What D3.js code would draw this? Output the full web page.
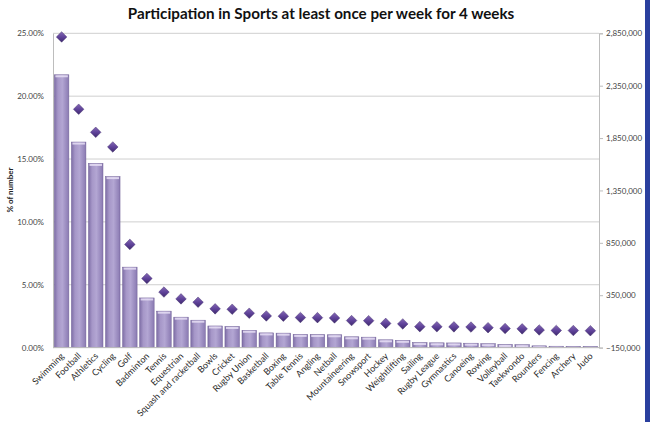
<!DOCTYPE html>
<html>
<head>
<meta charset="utf-8">
<script src="https://cdn.jsdelivr.net/npm/d3@7/dist/d3.min.js"></script>
<style>
  html, body { margin: 0; padding: 0; background: #fff; }
  svg { display: block; }
</style>
</head>
<body>
<svg id="chart" width="650" height="422"></svg>
<script>
const categories = ["Swimming","Football","Athletics","Cycling","Golf","Badminton","Tennis","Equestrian","Squash and racketball","Bowls","Cricket","Rugby Union","Basketball","Boxing","Table Tennis","Angling","Netball","Mountaineering","Snowsport","Hockey","Weightlifting","Sailing","Rugby League","Gymnastics","Canoeing","Rowing","Volleyball","Taekwondo","Rounders","Fencing","Archery","Judo"];
const percentValues = [0.217,0.1635,0.1465,0.136,0.064,0.0395,0.029,0.0242,0.0218,0.0172,0.0168,0.0138,0.0117,0.0115,0.0105,0.0104,0.0102,0.0086,0.0083,0.0062,0.0058,0.0040,0.0038,0.0037,0.0035,0.0031,0.0025,0.0023,0.0014,0.0011,0.0010,0.0009];
const numberValues = [2815000,2125000,1905000,1765000,835000,510000,380000,315000,283000,220000,216000,178000,152000,150000,137000,136000,133000,108000,107000,81000,76000,50000,49000,48000,46000,40000,32000,29000,18000,14000,13000,11000];
const leftTicks = [0,0.05,0.10,0.15,0.20,0.25];
const rightTicks = [-150000,350000,850000,1350000,1850000,2350000,2850000];
const titleText = "Participation in Sports at least once per week for 4 weeks";
const yTitle = "% of number";

const svg = d3.select("#chart");
const FONT = "Lato, 'Open Sans', 'DejaVu Sans', sans-serif";
const m = {left: 53, right: 599, top: 33.3, bottom: 347.6};

const defs = svg.append("defs");
const bg = defs.append("linearGradient").attr("id","barGrad").attr("x1","0").attr("x2","1").attr("y1","0").attr("y2","0");
bg.append("stop").attr("offset","0%").attr("stop-color","#7e6ea6");
bg.append("stop").attr("offset","25%").attr("stop-color","#a697c8");
bg.append("stop").attr("offset","55%").attr("stop-color","#b3a6d3");
bg.append("stop").attr("offset","100%").attr("stop-color","#8a7ab2");
const dg = defs.append("linearGradient").attr("id","diaGrad").attr("x1","0").attr("x2","1").attr("y1","0").attr("y2","1");
dg.append("stop").attr("offset","0%").attr("stop-color","#8468b4");
dg.append("stop").attr("offset","50%").attr("stop-color","#60439a");
dg.append("stop").attr("offset","100%").attr("stop-color","#3f2a6e");

const x = d3.scaleBand().domain(categories).range([m.left, m.right]).paddingInner(0.15).paddingOuter(0.08);
const yL = d3.scaleLinear().domain([0, 0.25]).range([m.bottom, m.top]);
const yR = d3.scaleLinear().domain([-150000, 2850000]).range([m.bottom, m.top]);

// gridlines
svg.append("g").selectAll("line").data(leftTicks).join("line")
  .attr("x1", m.left).attr("x2", m.right)
  .attr("y1", d => yL(d)).attr("y2", d => yL(d))
  .attr("stroke", "#cfcfcf").attr("stroke-width", 1);

// left axis
const axL = svg.append("g").attr("transform", `translate(${m.left},0)`)
  .call(d3.axisLeft(yL).tickValues(leftTicks).tickFormat(d3.format(".2%")).tickSize(0).tickPadding(9));
axL.select(".domain").attr("stroke", "#bdbdbd");
axL.selectAll("text").attr("font-family", FONT).attr("font-size", 8).attr("fill", "#444");

// right axis
const axR = svg.append("g").attr("transform", `translate(${m.right},0)`)
  .call(d3.axisRight(yR).tickValues(rightTicks).tickFormat(d3.format(",")).tickSize(4).tickPadding(3));
axR.select(".domain").attr("stroke", "#bdbdbd");
axR.selectAll(".tick line").attr("stroke", "#bdbdbd");
axR.selectAll("text").attr("font-family", FONT).attr("font-size", 8).attr("fill", "#444");

// bars
const bw = x.bandwidth();
const bars = svg.append("g").selectAll("g").data(categories).join("g");
bars.append("rect")
  .attr("x", d => x(d)).attr("width", bw)
  .attr("y", (d,i) => yL(percentValues[i]))
  .attr("height", (d,i) => yL(0) - yL(percentValues[i]))
  .attr("fill", "url(#barGrad)").attr("stroke", "#6f5f96").attr("stroke-width", 0.5);
bars.append("rect")
  .attr("x", d => x(d) + 1).attr("width", bw - 2)
  .attr("y", (d,i) => yL(percentValues[i]) + 0.5)
  .attr("height", (d,i) => Math.min(2, yL(0) - yL(percentValues[i])))
  .attr("fill", "#e6def5").attr("opacity", 0.85);

// bottom axis line
svg.append("line").attr("x1", m.left).attr("x2", m.right).attr("y1", m.bottom).attr("y2", m.bottom)
  .attr("stroke", "#bdbdbd");

// diamonds
const sym = d3.symbol().type(d3.symbolSquare).size(56);
svg.append("g").selectAll("path").data(categories).join("path")
  .attr("d", sym)
  .attr("transform", (d,i) => `translate(${x(d) + bw/2},${yR(numberValues[i])}) rotate(45)`)
  .attr("fill", "url(#diaGrad)").attr("stroke", "#3c2866").attr("stroke-width", 0.4);

// x labels
svg.append("g").selectAll("text").data(categories).join("text")
  .attr("transform", d => `translate(${x(d) + bw/2 + 3},${m.bottom + 9}) rotate(-45)`)
  .attr("text-anchor", "end")
  .attr("font-family", FONT).attr("font-size", 9).attr("fill", "#2a2a2a")
  .text(d => d);

// title
svg.append("text").attr("x", 321).attr("y", 19).attr("text-anchor", "middle")
  .attr("font-family", FONT).attr("font-weight", "bold").attr("font-size", 15.2).attr("fill", "#111")
  .text(titleText);

// y title
svg.append("text").attr("transform", "translate(13,190) rotate(-90)").attr("text-anchor", "middle")
  .attr("font-family", FONT).attr("font-weight", "bold").attr("font-size", 8).attr("fill", "#222")
  .text(yTitle);

// right blue edge
svg.append("rect").attr("x", 645).attr("y", 0).attr("width", 5).attr("height", 422).attr("fill", "#2a3f9e");
</script>
</body>
</html>
